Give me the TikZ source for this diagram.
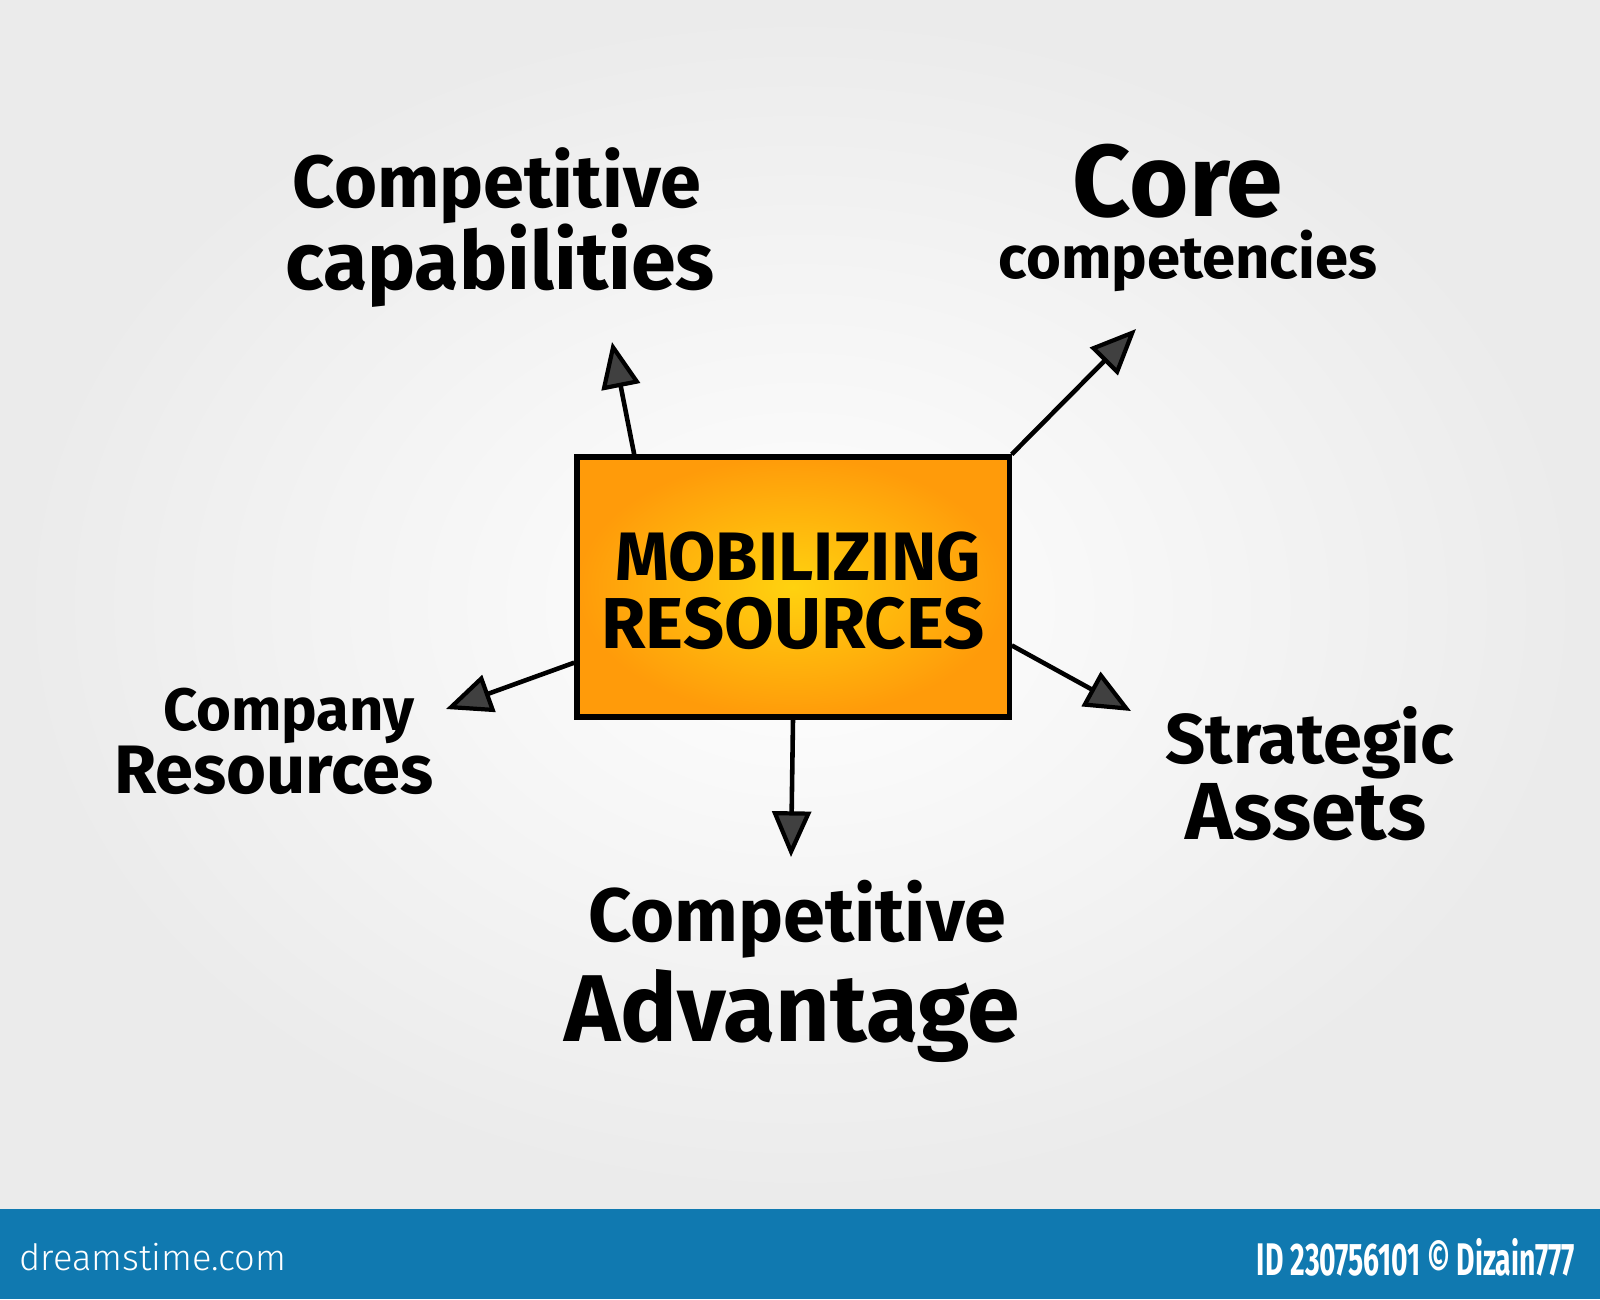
\documentclass[tikz,border=0pt]{standalone}
\usepackage{fontspec}
\setmainfont{Fira Sans}
\usepackage{xcolor}
\usepackage{graphicx}
\usepackage{tikz}
\usetikzlibrary{positioning}
\usetikzlibrary{calc}
\usetikzlibrary{arrows.meta}
\definecolor{mapblue}{RGB}{16,121,176}
\definecolor{boxyellow}{RGB}{255,210,15}
\definecolor{boxorange}{RGB}{255,155,10}
\newcommand\hsz[1]{\fontsize{#1}{#1}\selectfont}
\tikzset{
hand/.style={font=\bfseries, anchor=base, inner sep=0pt},
pointer/.style={line width=1.3pt,
-{Triangle[length=13pt, width=11pt, fill=black!75, line width=1.2pt]}},
}

\begin{document}
\begin{tikzpicture}[x=0.01cm,y=-0.01cm]
\useasboundingbox (0,0) rectangle (1600,1299);
\shade[inner color=white, outer color=black!8] (0,0) rectangle (1600,1209);

%----------box
\node[draw,
line width=1.5pt,
inner sep=0pt,
minimum width=4.32cm,
minimum height=2.6cm,
shading=radial,
inner color=boxyellow,
outer color=boxorange] (box) at (793,587) {};
\node[hand] (mobil) at (798,580) {\hsz{19.5}MOBILIZING};
\node[hand] (resou) at (793,648) {\hsz{20.5}RESOURCES};

%----------labels
\node[hand] (capTop) at (497,207) {\hsz{21}Competitive};
\node[hand] (capBot) at (500,289) {\hsz{23}capabilities};

\node[hand] (coreTop) at (1178,216) {\hsz{29}Core};
\node[hand] (coreBot) at (1188,278) {\hsz{17}competencies};

\node[hand] (compTop) at (289,730) {\hsz{17}Company};
\node[hand] (compBot) at (274,793) {\hsz{19.5}Resources};

\node[hand] (stratTop) at (1310,763) {\hsz{20}Strategic};
\node[hand] (stratBot) at (1306,839) {\hsz{23}Assets};

\node[hand] (advTop) at (797,941) {\hsz{21.5}Competitive};
\node[hand] (advBot) at (792,1041) {\hsz{27}Advantage};

%----------arrows
\coordinate (tipCap) at (612,342);
\coordinate (tipCore) at (1136,329);
\coordinate (tipComp) at (446,709);
\coordinate (tipStrat) at (1131,711);
\coordinate (tipAdv) at (791,857);

\draw[pointer] ($(box.north west)!0.137!(box.north east)$) -- (tipCap);
\draw[pointer] (box.north east) -- (tipCore);
\draw[pointer] ($(box.north west)!0.785!(box.south west)$) -- (tipComp);
\draw[pointer] ($(box.north east)!0.72!(box.south east)$) -- (tipStrat);
\draw[pointer] (box.south) -- (tipAdv);

%----------banner
\fill[mapblue] (0,1209) rectangle (1600,1299);
\node[text=white, inner sep=0pt] (dtLogo) at (153,1257) {\fontspec{Fira Sans Light}\hsz{10.3}dreamstime.com};
\node[text=white, inner sep=0pt] (dtId) at (1416,1257) {\scalebox{0.62}[1]{\hsz{13}\bfseries ID 230756101 © Dizain777}};

\end{tikzpicture}
\end{document}
